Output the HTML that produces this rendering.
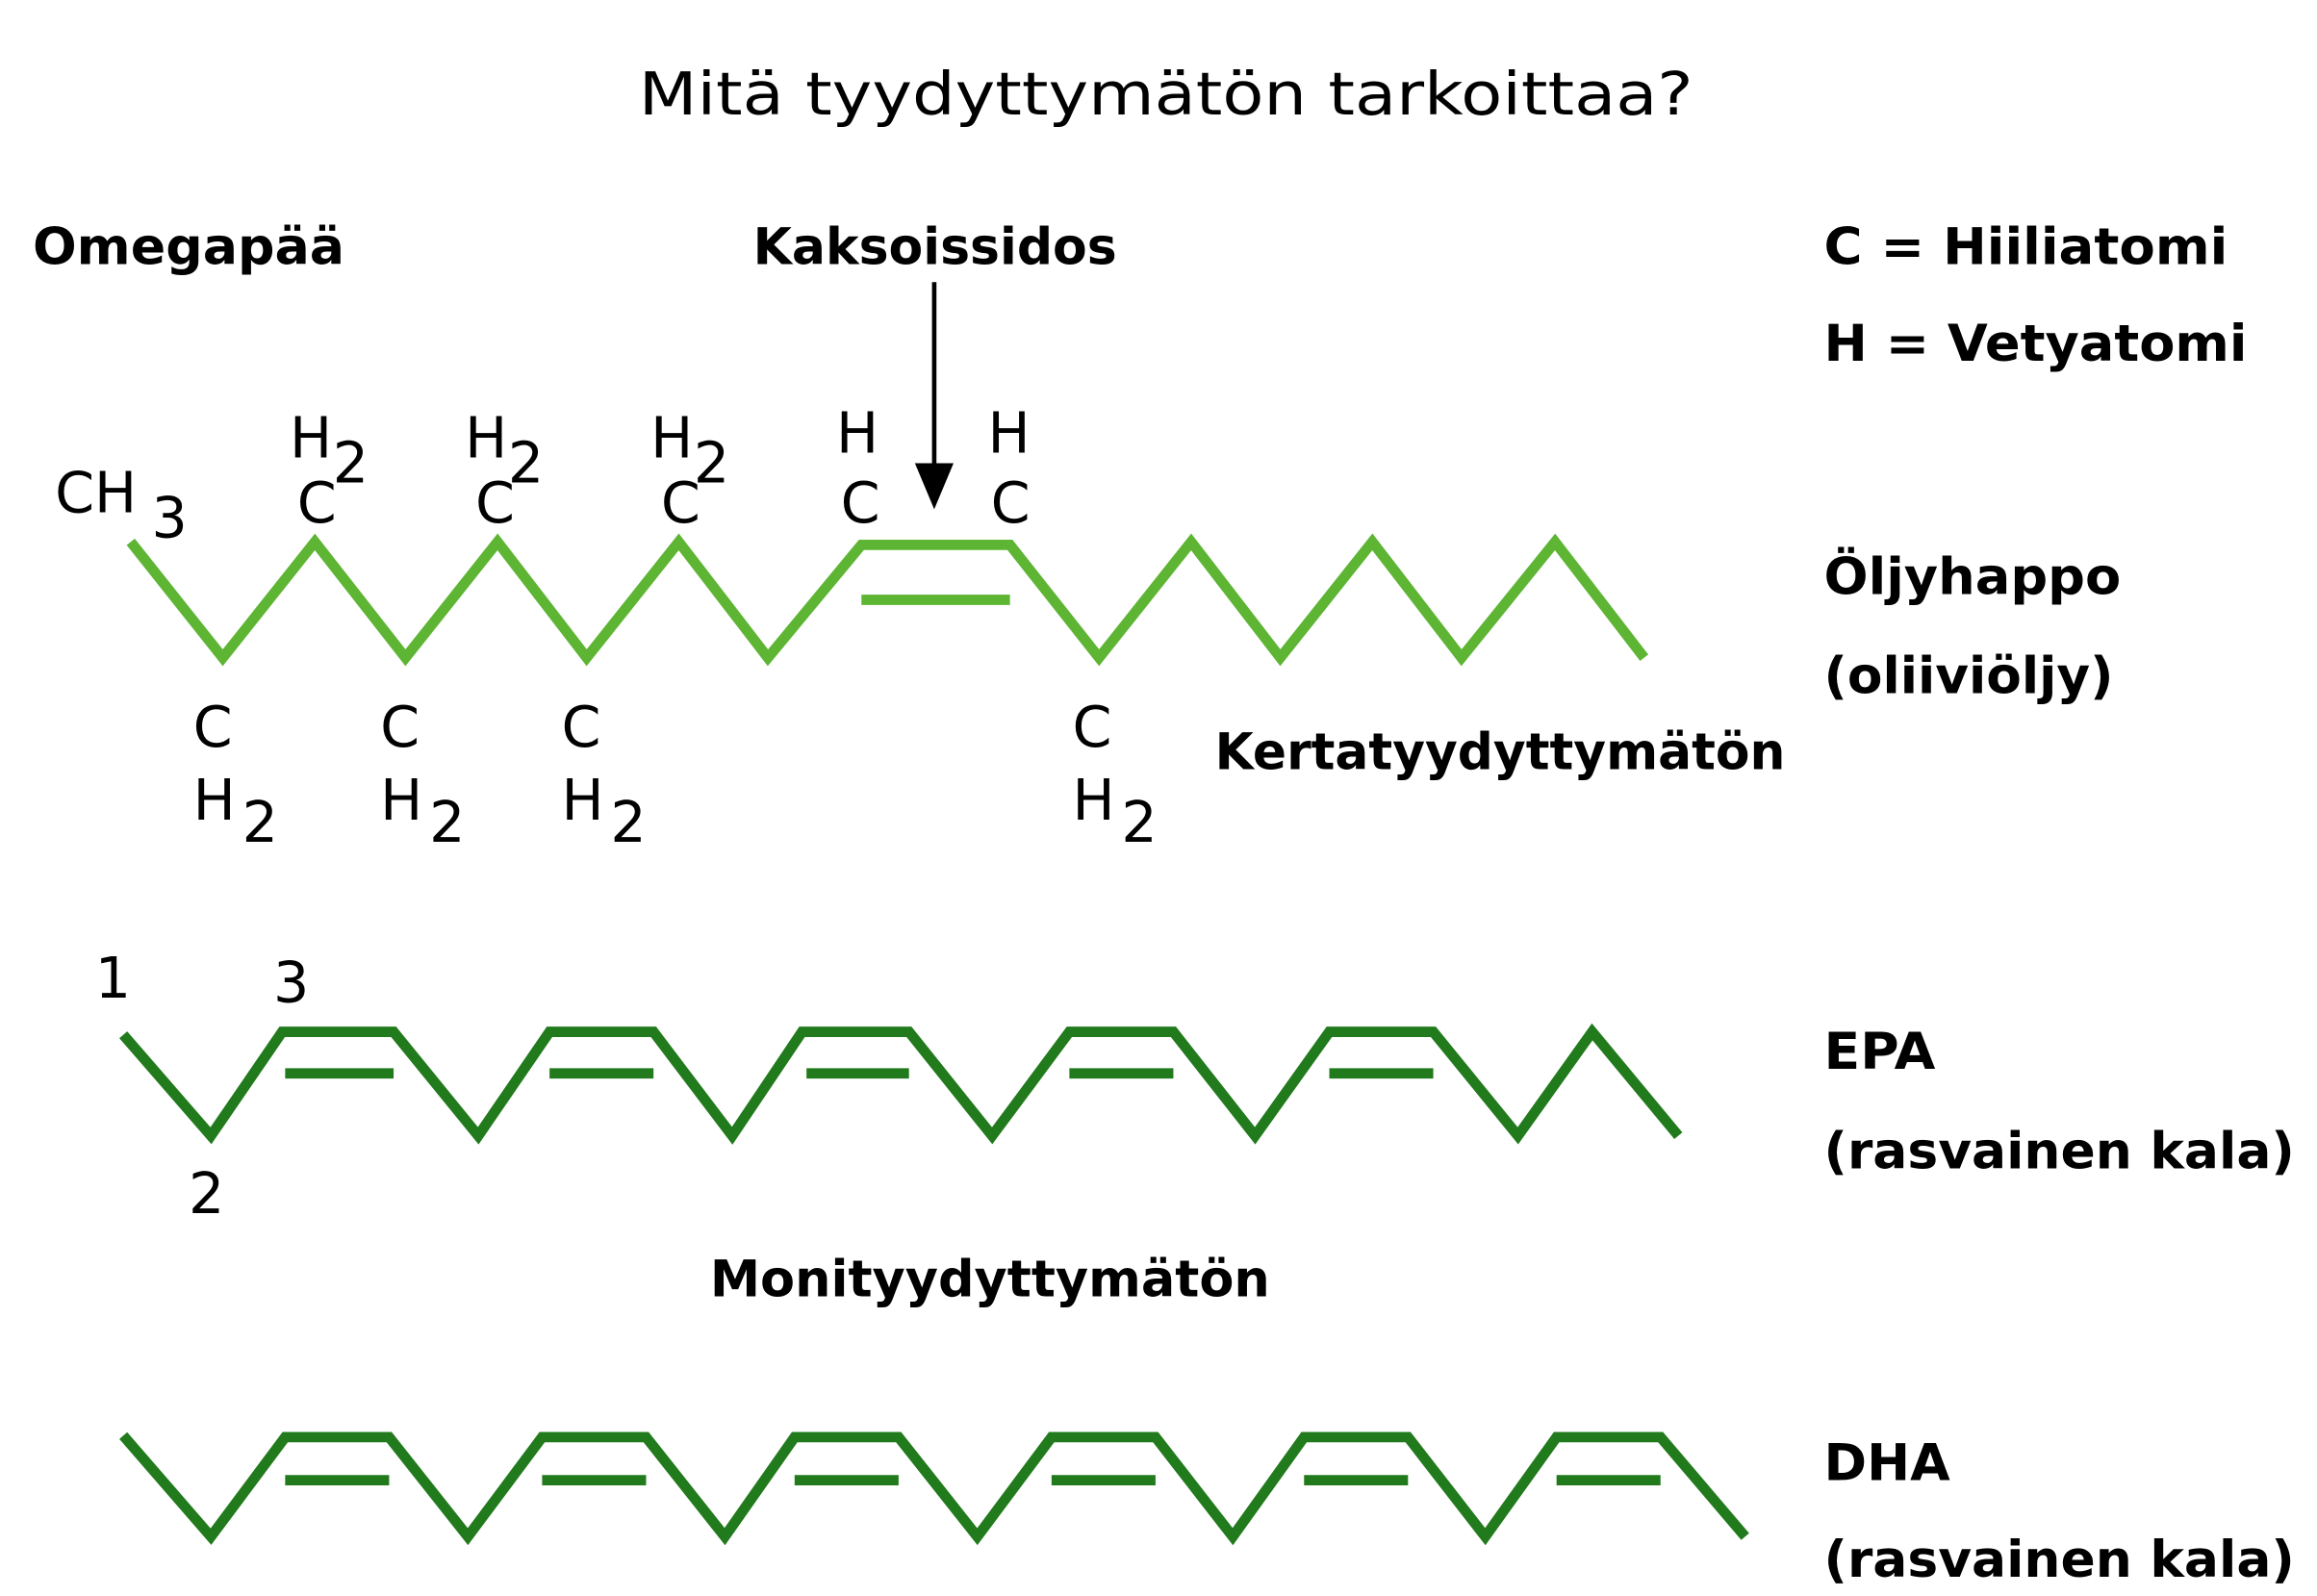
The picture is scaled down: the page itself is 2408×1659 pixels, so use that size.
<!DOCTYPE html>
<html><head><meta charset="utf-8"><style>
html,body{margin:0;padding:0;background:#fff;}
svg{display:block;}
text{font-family:"DejaVu Sans","Liberation Sans",sans-serif;fill:#000;}
.l{font-size:34px;font-weight:bold;}
.c{font-size:38px;}
.s{font-size:30px;}
</style></head><body>
<svg width="2408" height="1659" viewBox="0 0 1560 1075" preserveAspectRatio="none" xmlns="http://www.w3.org/2000/svg">
<rect width="1560" height="1075" fill="#fff"/>
<text x="430" y="77" font-size="40" textLength="710" lengthAdjust="spacingAndGlyphs">Mitä tyydyttymätön tarkoittaa?</text>
<text class="l" x="22" y="178" textLength="210" lengthAdjust="spacingAndGlyphs">Omegapää</text>
<text class="l" x="507" y="178" textLength="245" lengthAdjust="spacingAndGlyphs">Kaksoissidos</text>
<text class="l" x="1228" y="178" textLength="272" lengthAdjust="spacingAndGlyphs">C = Hiiliatomi</text>
<text class="l" x="1228" y="243" textLength="285" lengthAdjust="spacingAndGlyphs">H = Vetyatomi</text>
<text class="l" x="1228" y="400" textLength="200" lengthAdjust="spacingAndGlyphs">Öljyhappo</text>
<text class="l" x="1228" y="467" textLength="195" lengthAdjust="spacingAndGlyphs">(oliiviöljy)</text>
<text class="l" x="818" y="518" textLength="384" lengthAdjust="spacingAndGlyphs">Kertatyydyttymätön</text>
<text class="l" x="1228" y="720" textLength="75" lengthAdjust="spacingAndGlyphs">EPA</text>
<text class="l" x="1228" y="787" textLength="317" lengthAdjust="spacingAndGlyphs">(rasvainen kala)</text>
<text class="l" x="478" y="873" textLength="377" lengthAdjust="spacingAndGlyphs">Monityydyttymätön</text>
<text class="l" x="1228" y="997" textLength="85" lengthAdjust="spacingAndGlyphs">DHA</text>
<text class="l" x="1228" y="1062" textLength="317" lengthAdjust="spacingAndGlyphs">(rasvainen kala)</text>

<!-- chemistry labels -->
<text class="c" x="37" y="345">CH</text><text class="c" x="102" y="362">3</text>
<g>
<text class="c" x="195" y="308">H</text><text class="c" x="224" y="325">2</text><text class="c" x="200" y="352">C</text>
<text class="c" x="313" y="308">H</text><text class="c" x="342" y="325">2</text><text class="c" x="320" y="352">C</text>
<text class="c" x="438" y="308">H</text><text class="c" x="467" y="325">2</text><text class="c" x="445" y="352">C</text>
<text class="c" x="563" y="305">H</text><text class="c" x="566" y="352">C</text>
<text class="c" x="665" y="305">H</text><text class="c" x="667" y="352">C</text>
</g>
<g>
<text class="c" x="130" y="503">C</text><text class="c" x="130" y="552">H</text><text class="c" x="163" y="567">2</text>
<text class="c" x="256" y="503">C</text><text class="c" x="256" y="552">H</text><text class="c" x="289" y="567">2</text>
<text class="c" x="378" y="503">C</text><text class="c" x="378" y="552">H</text><text class="c" x="411" y="567">2</text>
<text class="c" x="722" y="503">C</text><text class="c" x="722" y="552">H</text><text class="c" x="755" y="567">2</text>
</g>
<text class="c" x="64" y="672">1</text>
<text class="c" x="184" y="675">3</text>
<text class="c" x="127" y="817">2</text>

<!-- arrow -->
<line x1="629" y1="190" x2="629" y2="318" stroke="#000" stroke-width="3"/>
<polygon points="616,312 642,312 629,343" fill="#000"/>

<!-- oleic acid -->
<g fill="none" stroke="#5db533" stroke-width="7" stroke-linejoin="miter">
<polyline points="88,365 150,443 212,365 273,443 335,365 395,443 457,365 517,443 580,367 680,367 740,443 802,365 862,443 924,365 984,443 1047,365 1107,443"/>
<line x1="580" y1="404" x2="680" y2="404"/>
</g>

<!-- EPA -->
<g fill="none" stroke="#217a1c" stroke-width="7">
<polyline points="83,697 142,765 190,695 265,695 322,765 370,695 440,695 493,765 540,695 612,695 668,765 720,695 790,695 845,765 895,695 965,695 1022,765 1072,695 1130,765"/>
<line x1="192" y1="723" x2="265" y2="723"/>
<line x1="370" y1="723" x2="440" y2="723"/>
<line x1="543" y1="723" x2="612" y2="723"/>
<line x1="720" y1="723" x2="790" y2="723"/>
<line x1="895" y1="723" x2="965" y2="723"/>
</g>

<!-- DHA -->
<g fill="none" stroke="#217a1c" stroke-width="7">
<polyline points="83,967 142,1035 192,968 262,968 315,1035 365,968 435,968 488,1035 535,968 605,968 658,1035 708,968 778,968 830,1035 878,968 948,968 1000,1035 1048,968 1118,968 1175,1035"/>
<line x1="192" y1="997" x2="262" y2="997"/>
<line x1="365" y1="997" x2="435" y2="997"/>
<line x1="535" y1="997" x2="605" y2="997"/>
<line x1="708" y1="997" x2="778" y2="997"/>
<line x1="878" y1="997" x2="948" y2="997"/>
<line x1="1048" y1="997" x2="1118" y2="997"/>
</g>
</svg>
</body></html>
